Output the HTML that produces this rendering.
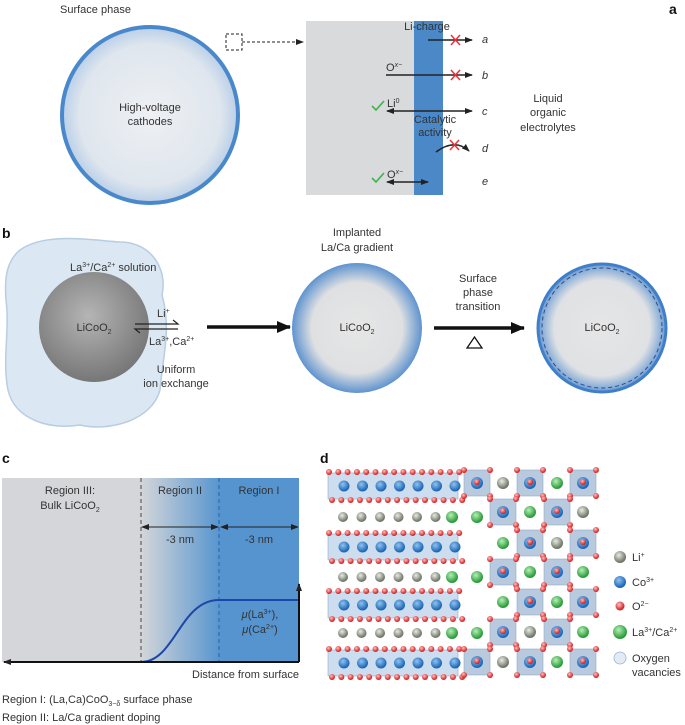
<!DOCTYPE html>
<html><head><meta charset="utf-8"><style>
html,body{margin:0;padding:0;background:#fff}
svg{display:block;font-family:"Liberation Sans",sans-serif}
</style></head><body>
<svg id="s" width="685" height="725" viewBox="0 0 685 725" xmlns="http://www.w3.org/2000/svg">
<defs>
<radialGradient id="g1" cx="50%" cy="50%" r="50%"><stop offset="0" stop-color="#eef0f3"/><stop offset="0.8" stop-color="#dfe6ee"/><stop offset="1" stop-color="#b9cfe8"/></radialGradient>
<radialGradient id="g2" cx="45%" cy="40%" r="60%"><stop offset="0" stop-color="#b5b5b5"/><stop offset="1" stop-color="#777"/></radialGradient>
<radialGradient id="g3" cx="50%" cy="50%" r="50%"><stop offset="0" stop-color="#e6e6e6"/><stop offset="0.7" stop-color="#dfe0e2"/><stop offset="1" stop-color="#5f93cf"/></radialGradient>
<radialGradient id="g4" cx="50%" cy="50%" r="50%"><stop offset="0" stop-color="#e6e6e6"/><stop offset="0.75" stop-color="#dfe1e4"/><stop offset="1" stop-color="#6b9bd3"/></radialGradient>
<linearGradient id="gc" x1="0" x2="1"><stop offset="0" stop-color="#d4d6d9"/><stop offset="1" stop-color="#5594cf"/></linearGradient>
<marker id="ah" markerWidth="8" markerHeight="8" refX="7" refY="4" orient="auto-start-reverse" markerUnits="userSpaceOnUse"><path d="M0,1 L8,4 L0,7 z" fill="#222"/></marker>
<marker id="ahb" markerWidth="14" markerHeight="14" refX="13" refY="7" orient="auto" markerUnits="userSpaceOnUse"><path d="M0,1 L14,7 L0,13 z" fill="#111"/></marker>
<radialGradient id="aG" cx="40%" cy="35%" r="60%"><stop offset="0" stop-color="#e8ebe4"/><stop offset="1" stop-color="#6e7466"/></radialGradient>
<radialGradient id="aB" cx="40%" cy="35%" r="60%"><stop offset="0" stop-color="#8fc3f0"/><stop offset="1" stop-color="#1d66b4"/></radialGradient>
<radialGradient id="aR" cx="40%" cy="35%" r="60%"><stop offset="0" stop-color="#ffc0c0"/><stop offset="1" stop-color="#d42020"/></radialGradient>
<radialGradient id="aN" cx="40%" cy="35%" r="60%"><stop offset="0" stop-color="#b5f0b5"/><stop offset="1" stop-color="#2a9a3a"/></radialGradient>
</defs>
<style>text{font-size:11px;fill:#333}.b{font-weight:bold;font-size:14px;fill:#111}.i{font-style:italic}</style>

<!-- Panel a -->
<text x="60" y="13" font-size="11">Surface phase</text>
<text class="b" x="669" y="14">a</text>
<circle cx="150" cy="115" r="88" fill="url(#g1)" stroke="#4a88cc" stroke-width="4"/>
<text x="150" y="111" text-anchor="middle">High-voltage</text>
<text x="150" y="125" text-anchor="middle">cathodes</text>
<rect x="226" y="34" width="16" height="16" fill="none" stroke="#222" stroke-dasharray="3,2"/>
<line x1="242" y1="42" x2="303" y2="42" stroke="#222" stroke-dasharray="3,2" marker-end="url(#ah)"/>
<rect x="306" y="21" width="108" height="174" fill="#d9dadc"/>
<rect x="414" y="21" width="29" height="174" fill="#4a88c7"/>
<text x="427" y="30" text-anchor="middle">Li-charge</text>
<line x1="428" y1="40" x2="472" y2="40" stroke="#222" stroke-width="1.5" marker-end="url(#ah)"/>
<text x="386" y="71">O<tspan dy="-4" font-size="7" class="i">x</tspan><tspan font-size="7">−</tspan></text>
<line x1="386" y1="75" x2="472" y2="75" stroke="#222" stroke-width="1.5" marker-end="url(#ah)"/>
<path d="M372,106 l4,4 l8,-9" stroke="#3bb54a" stroke-width="1.6" fill="none"/>
<text x="387" y="107">Li<tspan dy="-4" font-size="7">0</tspan></text>
<line x1="387" y1="111" x2="472" y2="111" stroke="#222" stroke-width="1.5" marker-start="url(#ah)" marker-end="url(#ah)"/>
<text x="435" y="123" text-anchor="middle">Catalytic</text>
<text x="435" y="136" text-anchor="middle">activity</text>
<path d="M436,152 Q455,138 469,151" stroke="#222" stroke-width="1.5" fill="none" marker-end="url(#ah)"/>
<path d="M372,178 l4,4 l8,-9" stroke="#3bb54a" stroke-width="1.6" fill="none"/>
<text x="387" y="178">O<tspan dy="-4" font-size="7" class="i">x</tspan><tspan font-size="7">−</tspan></text>
<line x1="387" y1="182" x2="428" y2="182" stroke="#222" stroke-width="1.5" marker-start="url(#ah)" marker-end="url(#ah)"/>
<g stroke="#e8343a" stroke-width="1.5"><path d="M451,35 l9,10 M460,35 l-9,10"/><path d="M451,70 l9,10 M460,70 l-9,10"/><path d="M450,140 l9,10 M459,140 l-9,10"/></g>
<g class="i"><text x="482" y="43" class="i">a</text><text x="482" y="79" class="i">b</text><text x="482" y="115">c</text><text x="482" y="152" class="i">d</text><text x="482" y="185">e</text></g>
<text x="548" y="102" text-anchor="middle">Liquid</text>
<text x="548" y="116" text-anchor="middle">organic</text>
<text x="548" y="131" text-anchor="middle">electrolytes</text>

<!-- Panel b -->
<text class="b" x="2" y="238">b</text>
<path d="M20,250 C45,232 90,240 120,242 C150,242 168,268 162,295 C172,330 162,360 160,390 C152,420 110,432 80,425 C50,430 15,420 8,390 C2,360 10,330 6,300 C4,275 8,260 20,250 z" fill="#dbe8f4" stroke="#b7cde3" stroke-width="1.5"/>
<circle cx="94" cy="327" r="55" fill="url(#g2)"/>
<text x="70" y="271" font-size="10.5">La<tspan dy="-4" font-size="7">3+</tspan><tspan dy="4">/Ca</tspan><tspan dy="-4" font-size="7">2+</tspan><tspan dy="4"> solution</tspan></text>
<text x="94" y="331" text-anchor="middle" fill="#222">LiCoO<tspan dy="3" font-size="7">2</tspan></text>
<text x="157" y="317">Li<tspan dy="-4" font-size="7">+</tspan></text>
<path d="M135,324 H178 l-5,-4" stroke="#222" fill="none" stroke-width="1.2"/>
<path d="M178,329 H135 l5,4" stroke="#222" fill="none" stroke-width="1.2"/>
<text x="149" y="345" font-size="10.5">La<tspan dy="-4" font-size="7">3+</tspan><tspan dy="4">,Ca</tspan><tspan dy="-4" font-size="7">2+</tspan></text>
<text x="176" y="373" text-anchor="middle">Uniform</text>
<text x="176" y="387" text-anchor="middle">ion exchange</text>
<line x1="207" y1="327" x2="290" y2="327" stroke="#111" stroke-width="3.5" marker-end="url(#ahb)"/>
<text x="357" y="236" text-anchor="middle">Implanted</text>
<text x="357" y="251" text-anchor="middle">La/Ca gradient</text>
<circle cx="357" cy="328" r="65" fill="url(#g3)"/>
<text x="357" y="331" text-anchor="middle" fill="#333">LiCoO<tspan dy="3" font-size="7">2</tspan></text>
<text x="478" y="282" text-anchor="middle">Surface</text>
<text x="478" y="296" text-anchor="middle">phase</text>
<text x="478" y="310" text-anchor="middle">transition</text>
<line x1="434" y1="328" x2="524" y2="328" stroke="#111" stroke-width="3.5" marker-end="url(#ahb)"/>
<path d="M467,348 L474.5,337 L482,348 z" fill="none" stroke="#111" stroke-width="1.3"/>
<circle cx="602" cy="328" r="64" fill="url(#g4)" stroke="#3f7fc9" stroke-width="3"/>
<circle cx="602" cy="328" r="60" fill="none" stroke="#2a4f8a" stroke-width="1" stroke-dasharray="4,3"/>
<text x="602" y="331" text-anchor="middle" fill="#333">LiCoO<tspan dy="3" font-size="7">2</tspan></text>

<!-- Panel c -->
<text class="b" x="2" y="463">c</text>
<rect x="2" y="478" width="139" height="184" fill="#d4d6d9"/>
<rect x="141" y="478" width="80" height="184" fill="url(#gc)"/>
<rect x="220" y="478" width="79" height="184" fill="#5594cf"/>
<line x1="141" y1="478" x2="141" y2="662" stroke="#444" stroke-dasharray="4,3"/>
<line x1="219" y1="478" x2="219" y2="662" stroke="#2a5ea6" stroke-dasharray="4,3"/>
<text x="70" y="494" text-anchor="middle">Region III:</text>
<text x="70" y="509" text-anchor="middle">Bulk LiCoO<tspan dy="3" font-size="7">2</tspan></text>
<text x="180" y="494" text-anchor="middle">Region II</text>
<text x="259" y="494" text-anchor="middle">Region I</text>
<line x1="142" y1="527" x2="218" y2="527" stroke="#222" marker-start="url(#ah)" marker-end="url(#ah)"/>
<line x1="221" y1="527" x2="298" y2="527" stroke="#222" marker-start="url(#ah)" marker-end="url(#ah)"/>
<text x="180" y="543" text-anchor="middle">-3 nm</text>
<text x="259" y="543" text-anchor="middle">-3 nm</text>
<path d="M141,662 C175,662 180,600 219,600 L299,600" stroke="#1c47a8" stroke-width="2" fill="none"/>
<line x1="299" y1="662" x2="4" y2="662" stroke="#111" stroke-width="2" marker-end="url(#ah)"/>
<line x1="299" y1="662" x2="299" y2="584" stroke="#111" stroke-width="2" marker-end="url(#ah)"/>
<text x="260" y="618" text-anchor="middle"><tspan class="i">μ</tspan>(La<tspan dy="-4" font-size="7">3+</tspan><tspan dy="4">),</tspan></text>
<text x="260" y="633" text-anchor="middle"><tspan class="i">μ</tspan>(Ca<tspan dy="-4" font-size="7">2+</tspan><tspan dy="4">)</tspan></text>
<text x="299" y="678" text-anchor="end">Distance from surface</text>
<text x="2" y="703">Region I: (La,Ca)CoO<tspan dy="3" font-size="7">3−δ</tspan><tspan dy="-3"> surface phase</tspan></text>
<text x="2" y="721">Region II: La/Ca gradient doping</text>

<!-- Panel d -->
<text class="b" x="320" y="463">d</text>
<g id="d"></g>
<circle cx="620" cy="557" r="6" fill="url(#aG)"/><text x="632" y="561">Li<tspan dy="-4" font-size="7">+</tspan></text>
<circle cx="620" cy="582" r="6" fill="url(#aB)"/><text x="632" y="586">Co<tspan dy="-4" font-size="7">3+</tspan></text>
<circle cx="620" cy="606" r="4.5" fill="url(#aR)"/><text x="632" y="610">O<tspan dy="-4" font-size="7">2−</tspan></text>
<circle cx="620" cy="632" r="7" fill="url(#aN)"/><text x="632" y="636">La<tspan dy="-4" font-size="7">3+</tspan><tspan dy="4">/Ca</tspan><tspan dy="-4" font-size="7">2+</tspan></text>
<circle cx="620" cy="658" r="6" fill="#e3eaf4" stroke="#9bb3d6" stroke-width="0.8"/><text x="632" y="662">Oxygen</text><text x="632" y="676">vacancies</text>
</svg>
<script>
var g=document.getElementById('d'),h='';
function c(x,y,r,f){h+='<circle cx="'+x+'" cy="'+y+'" r="'+r+'" fill="url(#'+f+')"/>';}
function rc(x,y,w,hh,f,o){h+='<rect x="'+x+'" y="'+y+'" width="'+w+'" height="'+hh+'" fill="'+f+'" fill-opacity="'+o+'" stroke="#8fa9c8" stroke-width="0.6"/>';}
var co=[486,547,605,663],li=[517,577,633];
co.forEach(function(y,k){rc(328,y-13,130,26,'#8fb4dc',0.45);
 for(var x=344;x<=460;x+=18.5){c(x,y,5.5,'aB');}
 for(var x=329;x<=460;x+=9.3){c(x,y-14,3,'aR');c(x+3,y+14,3,'aR');}});
li.forEach(function(y,k){for(var x=343;x<=440;x+=18.5){c(x,y,5,'aG');}c(452,y,6,'aN');c(477,y,6,'aN');});
var rows=[483,512,543,572,602,632,662];
rows.forEach(function(y,i){
 var cols=i%2==0?[477,530,583]:[503,557];
 var other=i%2==0?[503,557]:[477,530,583];
 cols.forEach(function(x){if(i%2==1||i==0||i==6||x!=477){rc(x-13,y-13,26,26,'#7f9fc4',0.55);c(x,y,6,'aB');c(x,y-1,3,'aR');c(x-13,y-13,3,'aR');c(x+13,y-13,3,'aR');c(x-13,y+13,3,'aR');c(x+13,y+13,3,'aR');}});
 other.forEach(function(x,j){if(x==477&&i%2==1)return;c(x,y,6,(i+j)%3==0?'aG':'aN');});
});
g.innerHTML=h;
</script>
</body></html>
